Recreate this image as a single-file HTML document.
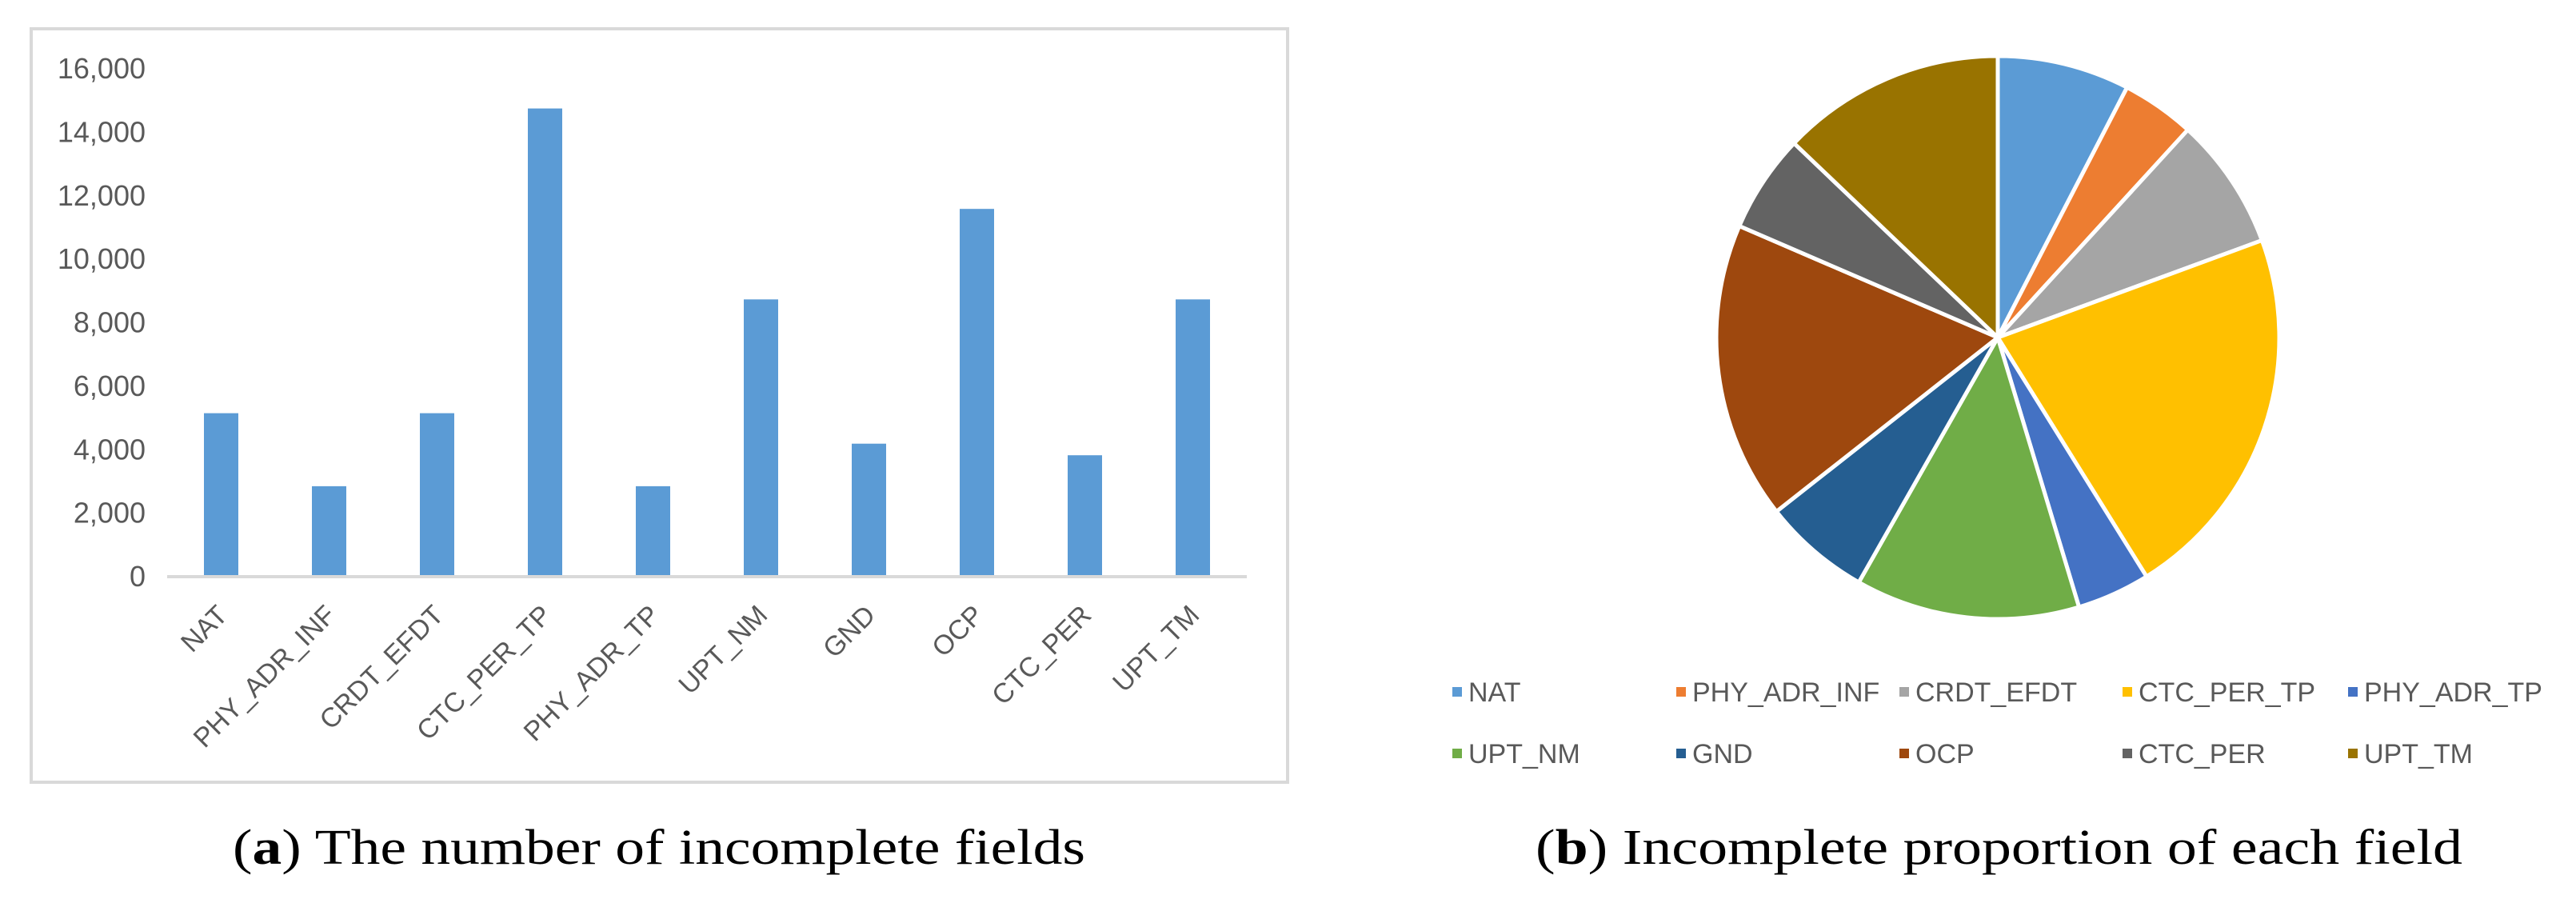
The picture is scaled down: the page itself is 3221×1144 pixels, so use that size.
<!DOCTYPE html>
<html><head><meta charset="utf-8"><style>
html,body{margin:0;padding:0;background:#fff}
svg{display:block}
</style></head><body>
<svg id="fig" width="3221" height="1144" viewBox="0 0 3221 1144" xmlns="http://www.w3.org/2000/svg">
<rect x="39" y="36" width="1571" height="942" fill="#fff" stroke="#d9d9d9" stroke-width="4"/>
<g id="bars"></g>
<g id="pie"></g>
<g id="legend"></g>
<text x="291" y="1080" font-family="Liberation Serif, serif" font-size="62" fill="#000" textLength="1066" lengthAdjust="spacingAndGlyphs">(<tspan font-weight="bold">a</tspan>) The number of incomplete fields</text>
<text x="1920" y="1080" font-family="Liberation Serif, serif" font-size="62" fill="#000" textLength="1159" lengthAdjust="spacingAndGlyphs">(<tspan font-weight="bold">b</tspan>) Incomplete proportion of each field</text>
</svg>
<script>
const categories = ["NAT","PHY_ADR_INF","CRDT_EFDT","CTC_PER_TP","PHY_ADR_TP","UPT_NM","GND","OCP","CTC_PER","UPT_TM"];
const values = [5150,2850,5150,14750,2850,8735,4190,11586,3825,8735];
const yTicks = [0,2000,4000,6000,8000,10000,12000,14000,16000];
const yTickLabels = ["0","2,000","4,000","6,000","8,000","10,000","12,000","14,000","16,000"];
const colors = ["#5b9bd5","#ed7d31","#a5a5a5","#ffc000","#4472c4","#70ad47","#255e91","#9e480e","#636363","#997300"];

const NS = "http://www.w3.org/2000/svg";
function mk(tag, attrs, parent){const e=document.createElementNS(NS,tag);for(const k in attrs)e.setAttribute(k,attrs[k]);parent.appendChild(e);return e;}

// bar chart axes
const x0=209, x1=1559, y0=721, yTop=86, yMax=16000;
const band=(x1-x0)/categories.length;
const xC=i=>x0+band*(i+0.5);
const yS=v=>y0-(v/yMax)*(y0-yTop);
const bars=document.getElementById('bars');
yTicks.forEach((t,i)=>{
  const tx=mk('text',{x:182,y:yS(t)+12,'text-anchor':'end','font-family':'Liberation Sans, sans-serif','font-size':36,fill:'#595959'},bars);
  tx.textContent=yTickLabels[i];
  
  
});
values.forEach((v,i)=>{
  const r=mk('rect',{x:xC(i)-21.5,y:yS(v),width:43,height:y0-yS(v),fill:'#5b9bd5'},bars);
  
  
  const t=mk('text',{x:xC(i)+10,y:y0+50,'text-anchor':'end','font-family':'Liberation Sans, sans-serif','font-size':34,fill:'#595959',transform:`rotate(-45 ${xC(i)+10} ${y0+50})`},bars);
  t.textContent=categories[i];
  
  
});
const ax=mk('line',{x1:x0,y1:y0,x2:x1,y2:y0,stroke:'#d9d9d9','stroke-width':4},bars);



// pie
const cx=2498, cy=422, rx=352, ry=352;
const pie=document.getElementById('pie');
const total=values.reduce((a,b)=>a+b,0);
let ang=0;
values.forEach((v,i)=>{
  const a0=ang, a1=ang+v/total*2*Math.PI; ang=a1;
  const p0=[cx+rx*Math.sin(a0), cy-ry*Math.cos(a0)];
  const p1=[cx+rx*Math.sin(a1), cy-ry*Math.cos(a1)];
  const large=(a1-a0)>Math.PI?1:0;
  const p=mk('path',{d:`M${cx},${cy} L${p0[0]},${p0[1]} A${rx},${ry} 0 ${large} 1 ${p1[0]},${p1[1]} Z`,fill:colors[i],stroke:'#fff','stroke-width':5,'stroke-linejoin':'round'},pie);
  
  
});

// legend
const lg=document.getElementById('legend');
const colX=[1822,2102,2381,2660,2942], rowY=[865,942];
categories.forEach((c,i)=>{
  const lx=colX[i%5], ly=rowY[Math.floor(i/5)];
  const g=mk('g',{},lg);
  
  
  mk('rect',{x:lx-6,y:ly-6,width:12,height:12,fill:colors[i]},g);
  const t=mk('text',{x:lx+14,y:ly+12,'font-family':'Liberation Sans, sans-serif','font-size':34,fill:'#595959'},g);
  t.textContent=c;
});
</script>
</body></html>
